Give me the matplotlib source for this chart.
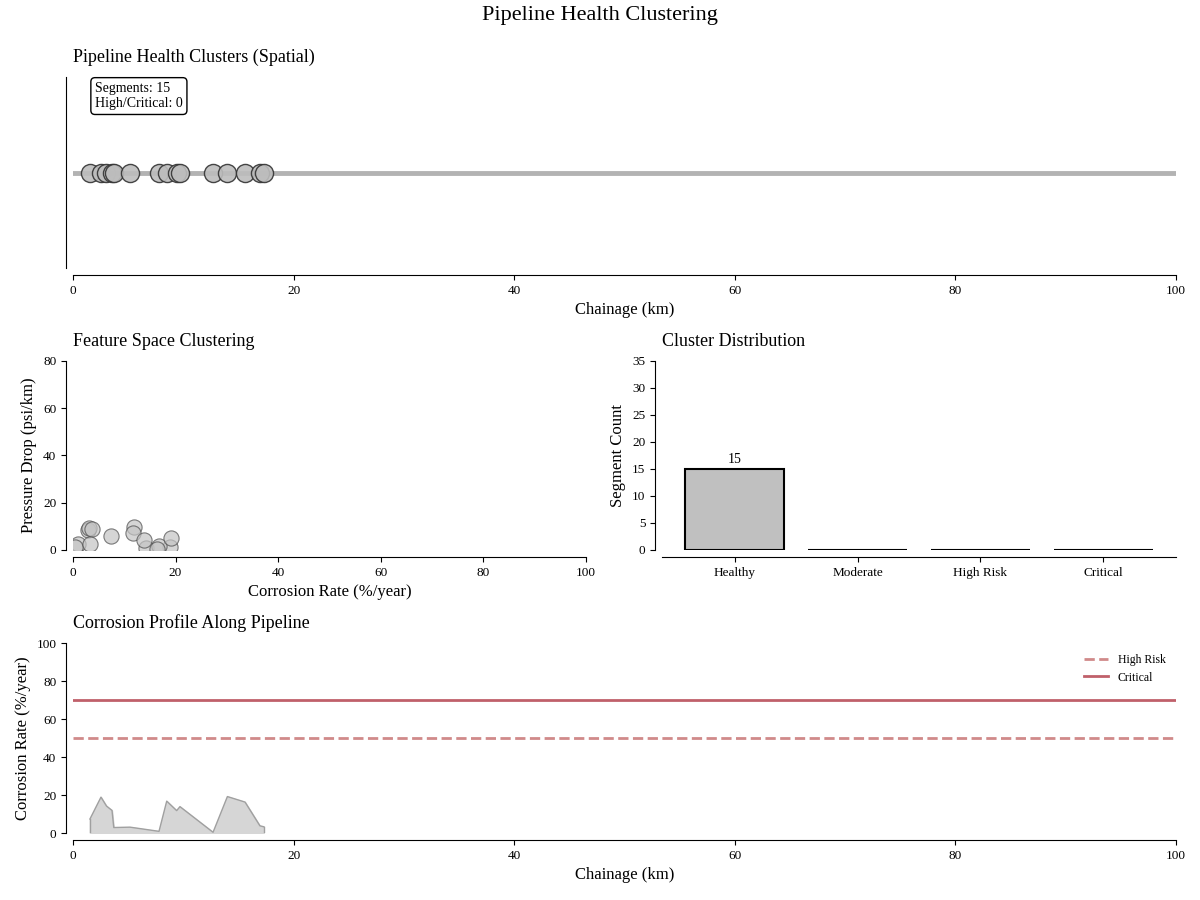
import numpy as np
import matplotlib
matplotlib.use('Agg')
import matplotlib.pyplot as plt

plt.rcParams['font.family'] = ['Liberation Serif', 'DejaVu Serif']

# segment data
chainage_km = [1.54, 2.54, 3.04, 3.54, 3.7, 5.17, 7.8, 8.5, 9.4, 9.7, 12.7, 14.0, 15.6, 16.95, 17.3]
corrosion_rate = [7.4, 18.9, 14.2, 11.9, 2.9, 3.1, 0.9, 16.8, 11.8, 13.9, 0.4, 19.2, 16.3, 3.8, 3.3]
pressure_drop = [6.1, 1.4, 0.7, 9.6, 8.5, 9.5, 2.4, 1.7, 7.1, 4.2, 1.4, 5.0, 0.3, 8.9, 2.5]

cluster_names = ['Healthy', 'Moderate', 'High Risk', 'Critical']
cluster_counts = [15, 0, 0, 0]

high_risk_level = 50
critical_level = 70


def offset_spines(ax):
    for s in ['top', 'right']:
        ax.spines[s].set_visible(False)
    ax.spines['bottom'].set_position(('outward', 5))
    ax.spines['left'].set_position(('outward', 5))


fig = plt.figure(figsize=(12, 9), dpi=100)
fig.suptitle('Pipeline Health Clustering', fontsize=16, y=0.993)

# spatial view
ax1 = fig.add_axes([0.0608, 0.7022, 0.9192, 0.2122])
ax1.axhline(0, color='#b3b3b3', lw=3.5, zorder=1)
ax1.scatter(chainage_km, np.zeros(len(chainage_km)), s=170, c='#bdbdbd',
            edgecolors='#333333', linewidths=1, alpha=0.9, zorder=2)
ax1.set_xlim(0, 100)
ax1.set_ylim(-1, 1)
ax1.set_yticks([])
ax1.set_xticks(range(0, 101, 20))
ax1.set_xlabel('Chainage (km)', fontsize=12)
ax1.set_title('Pipeline Health Clusters (Spatial)', fontsize=13, loc='left', pad=11)
ax1.text(0.02, 0.975, f'Segments: {len(chainage_km)}\nHigh/Critical: {cluster_counts[2] + cluster_counts[3]}',
         transform=ax1.transAxes, va='top', ha='left', fontsize=10, linespacing=1.25,
         bbox=dict(boxstyle='round,pad=0.3', fc='white', ec='black'))
offset_spines(ax1)

# feature space
ax2 = fig.add_axes([0.0608, 0.3889, 0.4275, 0.21])
ax2.scatter(corrosion_rate, pressure_drop, s=120, c='#c4c4c4',
            edgecolors='#4a4a4a', linewidths=0.8, alpha=0.7)
ax2.set_xlim(0, 100)
ax2.set_ylim(0, 80)
ax2.set_xticks(range(0, 101, 20))
ax2.set_yticks(range(0, 81, 20))
ax2.set_xlabel('Corrosion Rate (%/year)', fontsize=12)
ax2.set_ylabel('Pressure Drop (psi/km)', fontsize=12)
ax2.set_title('Feature Space Clustering', fontsize=13, loc='left', pad=11)
offset_spines(ax2)

# cluster distribution
ax3 = fig.add_axes([0.5517, 0.3889, 0.4283, 0.21])
bars = ax3.bar(cluster_names, cluster_counts, width=0.8, color='#c0c0c0',
               edgecolor='black', linewidth=1.5)
for b, n in zip(bars, cluster_counts):
    if n > 0:
        ax3.text(b.get_x() + b.get_width() / 2, n + 0.5, str(n),
                 ha='center', va='bottom', fontsize=10)
ax3.set_ylim(0, 35)
ax3.set_yticks(range(0, 36, 5))
ax3.set_ylabel('Segment Count', fontsize=12)
ax3.set_title('Cluster Distribution', fontsize=13, loc='left', pad=11)
offset_spines(ax3)

# corrosion profile
ax4 = fig.add_axes([0.0608, 0.0744, 0.9192, 0.2111])
ax4.fill_between(chainage_km, corrosion_rate, color='#d6d6d6', alpha=1.0)
ax4.plot(chainage_km, corrosion_rate, color='#a0a0a0', lw=1)
ax4.plot([chainage_km[0], chainage_km[0]], [0, corrosion_rate[0]], color='#a0a0a0', lw=1)
ax4.plot([chainage_km[-1], chainage_km[-1]], [0, corrosion_rate[-1]], color='#a0a0a0', lw=1)
ax4.axhline(high_risk_level, color='#d08a8a', ls='--', lw=2, label='High Risk')
ax4.axhline(critical_level, color='#c0606a', ls='-', lw=2, label='Critical')
ax4.set_xlim(0, 100)
ax4.set_ylim(0, 100)
ax4.set_xticks(range(0, 101, 20))
ax4.set_yticks(range(0, 101, 20))
ax4.set_xlabel('Chainage (km)', fontsize=12)
ax4.set_ylabel('Corrosion Rate (%/year)', fontsize=12)
ax4.set_title('Corrosion Profile Along Pipeline', fontsize=13, loc='left', pad=11)
ax4.legend(loc='upper right', frameon=False, fontsize=8.5)
offset_spines(ax4)

for ax in [ax1, ax2, ax3, ax4]:
    ax.tick_params(labelsize=9.5)

fig.savefig('out.png', dpi=100)
